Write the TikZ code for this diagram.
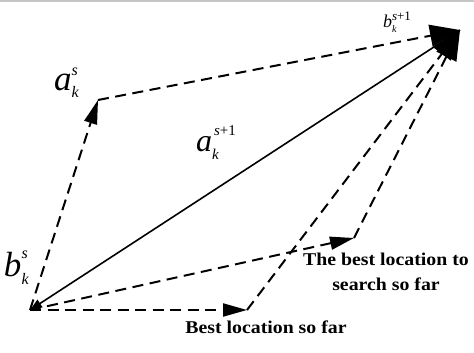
\documentclass[tikz,border=0pt]{standalone}
\usepackage{fontspec}
\setmainfont{Liberation Serif}
\newfontfamily\lblfont[FakeStretch=1.1]{Liberation Serif}
\usetikzlibrary{arrows.meta}
\tikzset{
  dline/.style={line width=2pt, dash pattern=on 11pt off 6.5pt},
  sline/.style={line width=1.6pt},
  midtip/.style={-{Triangle[length=24pt,width=13pt]}},
  bigtip/.style={-{Triangle[length=30pt,width=22pt]}},
  smalltip/.style={-{Triangle[length=12pt,width=9pt]}},
  lab/.style={inner sep=0pt, outer sep=0pt},
  btext/.style={inner sep=0pt, font=\lblfont\bfseries\fontsize{18}{25}\selectfont, align=center}
}
\begin{document}
\begin{tikzpicture}[x=1pt,y=-1pt]
\useasboundingbox (0,0) rectangle (474,353);
\fill[gray!45] (0,0) rectangle (474,2);
% points
\coordinate (P0) at (30,310);
\coordinate (A) at (98,100);
\coordinate (T) at (460,30);
\coordinate (B1) at (247,310);
\coordinate (B2) at (354,238);
% connectors
\draw[dline, midtip] (P0) -- (A);
\draw[dline, bigtip] (A) -- (T);
\draw[sline, smalltip] (T) -- (P0);
\draw[dline, midtip] (P0) -- (B1);
\draw[dline, bigtip] (B1) -- (T);
\draw[dline, midtip] (P0) -- (B2);
\draw[dline, bigtip] (B2) -- (T);
% labels
\node[lab, anchor=base west] (bs1) at (383,28) {{\fontsize{18}{18}\selectfont\itshape b}{\fontsize{10}{10}\selectfont\itshape\rlap{\raisebox{-5pt}{k}}}{\fontsize{13}{13}\selectfont\raisebox{7pt}{\itshape s\upshape +1}}};
\node[lab, anchor=base west] (as) at (54,91) {{\fontsize{35}{35}\selectfont\itshape a}{\fontsize{16}{16}\selectfont\itshape\rlap{\raisebox{-7pt}{k}}\raisebox{16pt}{s}}};
\node[lab, anchor=base west] (as1) at (196,151) {{\fontsize{32}{32}\selectfont\itshape a}{\fontsize{15}{15}\selectfont\rlap{\raisebox{-8pt}{\itshape k}}\kern2pt\raisebox{16pt}{\itshape s\upshape +1}}};
\node[lab, anchor=base west] (bs) at (4,276) {{\fontsize{35}{35}\selectfont\itshape b}{\fontsize{16}{16}\selectfont\itshape\rlap{\raisebox{-8pt}{k}}\raisebox{18pt}{s}}};
\node[btext, anchor=north] (t1) at (386,253) {The best location to\\search so far};
\node[btext, anchor=base] (t2) at (266,333) {Best location so far};
\end{tikzpicture}
\end{document}
